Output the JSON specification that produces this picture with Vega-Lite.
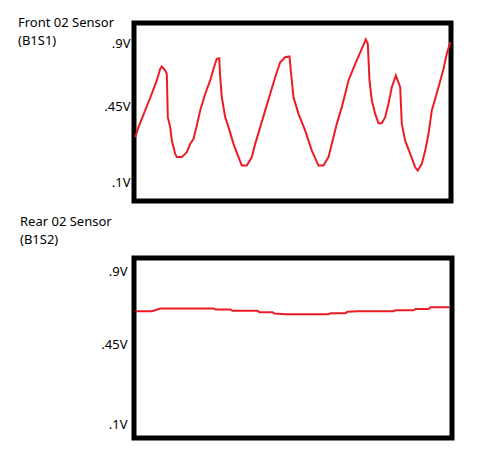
{
  "$schema": "https://vega.github.io/schema/vega-lite/v6.json",
  "background": "white",
  "padding": {"left": 15, "top": 14, "right": 5, "bottom": 5},
  "spacing": 9,
  "config": {
    "font": "Noto Sans",
    "view": {"stroke": "black", "strokeWidth": 5},
    "axisY": {
      "domain": false, "ticks": false, "grid": false,
      "labelFontSize": 13, "labelColor": "black", "labelPadding": 5,
      "labelFlush": false, "labelOverlap": false, "labelBound": false,
      "titleAngle": 0, "titleAlign": "left", "titleBaseline": "top",
      "titleFontWeight": "normal", "titleFontSize": 13, "titleColor": "black",
      "titleLineHeight": 18
    }
  },
  "datasets": {
    "front": [
      {"t":1.2,"v":0.309},{"t":4.5,"v":0.355},{"t":11.2,"v":0.432},{"t":17.8,"v":0.541},{"t":22.8,"v":0.636},
      {"t":26.2,"v":0.719},{"t":27.8,"v":0.736},{"t":31.2,"v":0.707},{"t":32.8,"v":0.684},{"t":33.8,"v":0.401},
      {"t":36.2,"v":0.355},{"t":37.8,"v":0.293},{"t":41.2,"v":0.232},{"t":42.8,"v":0.217},{"t":47.8,"v":0.217},
      {"t":52.8,"v":0.240},{"t":56.2,"v":0.278},{"t":59.5,"v":0.301},{"t":62.8,"v":0.362},{"t":66.2,"v":0.432},
      {"t":71.2,"v":0.541},{"t":76.2,"v":0.636},{"t":79.5,"v":0.719},{"t":82.8,"v":0.791},{"t":85.2,"v":0.795},
      {"t":86.2,"v":0.659},{"t":87.8,"v":0.516},{"t":91.2,"v":0.401},{"t":94.5,"v":0.355},{"t":99.5,"v":0.278},
      {"t":104.5,"v":0.217},{"t":107.8,"v":0.178},{"t":112.8,"v":0.178},{"t":117.8,"v":0.217},{"t":121.2,"v":0.278},
      {"t":126.2,"v":0.355},{"t":131.2,"v":0.432},{"t":136.2,"v":0.541},{"t":141.2,"v":0.659},{"t":146.2,"v":0.766},
      {"t":151.2,"v":0.802},{"t":155.5,"v":0.807},{"t":156.8,"v":0.707},{"t":159.5,"v":0.516},{"t":164.5,"v":0.416},
      {"t":171.2,"v":0.339},{"t":177.8,"v":0.247},{"t":184.5,"v":0.178},{"t":189.5,"v":0.178},{"t":194.5,"v":0.217},
      {"t":197.8,"v":0.278},{"t":202.8,"v":0.370},{"t":207.8,"v":0.447},{"t":214.5,"v":0.636},{"t":221.2,"v":0.755},
      {"t":227.8,"v":0.862},{"t":231.8,"v":0.929},{"t":233.8,"v":0.898},{"t":235.5,"v":0.636},{"t":237.8,"v":0.493},
      {"t":241.2,"v":0.416},{"t":244.5,"v":0.373},{"t":247.8,"v":0.373},{"t":251.2,"v":0.401},{"t":254.5,"v":0.469},
      {"t":257.8,"v":0.588},{"t":261.8,"v":0.671},{"t":266.2,"v":0.588},{"t":267.8,"v":0.370},{"t":271.2,"v":0.293},
      {"t":276.2,"v":0.232},{"t":281.2,"v":0.170},{"t":283.8,"v":0.155},{"t":287.8,"v":0.186},{"t":291.2,"v":0.247},
      {"t":294.5,"v":0.324},{"t":297.8,"v":0.432},{"t":304.5,"v":0.588},{"t":309.5,"v":0.719},{"t":312.8,"v":0.826},
      {"t":316.2,"v":0.909}
    ],
    "rear": [
      {"t":1.5,"v":0.655},{"t":18,"v":0.655},{"t":26.5,"v":0.672},{"t":79.5,"v":0.672},{"t":81.5,"v":0.666},
      {"t":96.5,"v":0.666},{"t":98.5,"v":0.658},{"t":123.5,"v":0.658},{"t":125.5,"v":0.649},{"t":138.5,"v":0.649},
      {"t":140.5,"v":0.641},{"t":151.5,"v":0.637},{"t":194.5,"v":0.637},{"t":196.5,"v":0.643},{"t":211.5,"v":0.643},
      {"t":213.5,"v":0.652},{"t":223.5,"v":0.655},{"t":259.5,"v":0.655},{"t":261.5,"v":0.661},{"t":279.5,"v":0.661},
      {"t":281.5,"v":0.668},{"t":294.5,"v":0.668},{"t":296.5,"v":0.680},{"t":315.5,"v":0.680}
    ]
  },
  "vconcat": [
    {
      "width": 317, "height": 178,
      "data": {"name": "front"},
      "mark": {"type": "line", "color": "#ED1C24", "strokeWidth": 2},
      "encoding": {
        "x": {"field": "t", "type": "quantitative", "scale": {"domain": [0, 317], "nice": false, "zero": false}, "axis": null},
        "y": {"field": "v", "type": "quantitative",
              "scale": {"domain": [0.015, 0.45, 1.046], "range": [178, 83.5, 0], "nice": false, "zero": false},
              "axis": {"title": ["Front 02 Sensor", "(B1S1)"], "titleX": -116.5, "titleY": -6.5, "labelPadding": 4,
                       "values": [0.1, 0.45, 0.9], "labelExpr": "slice(format(datum.value, '.2~f'), 1) + 'V'"}}
      }
    },
    {
      "width": 318, "height": 180,
      "data": {"name": "rear"},
      "mark": {"type": "line", "color": "#ED1C24", "strokeWidth": 2},
      "encoding": {
        "x": {"field": "t", "type": "quantitative", "scale": {"domain": [0, 318], "nice": false, "zero": false}, "axis": null},
        "y": {"field": "v", "type": "quantitative",
              "scale": {"domain": [0.041, 0.45, 0.983], "range": [180, 86.5, 0], "nice": false, "zero": false},
              "axis": {"title": ["Rear 02 Sensor", "(B1S2)"], "titleX": -114.5, "titleY": -42.5, "labelPadding": 7,
                       "values": [0.1, 0.45, 0.9], "labelExpr": "slice(format(datum.value, '.2~f'), 1) + 'V'"}}
      }
    }
  ]
}
